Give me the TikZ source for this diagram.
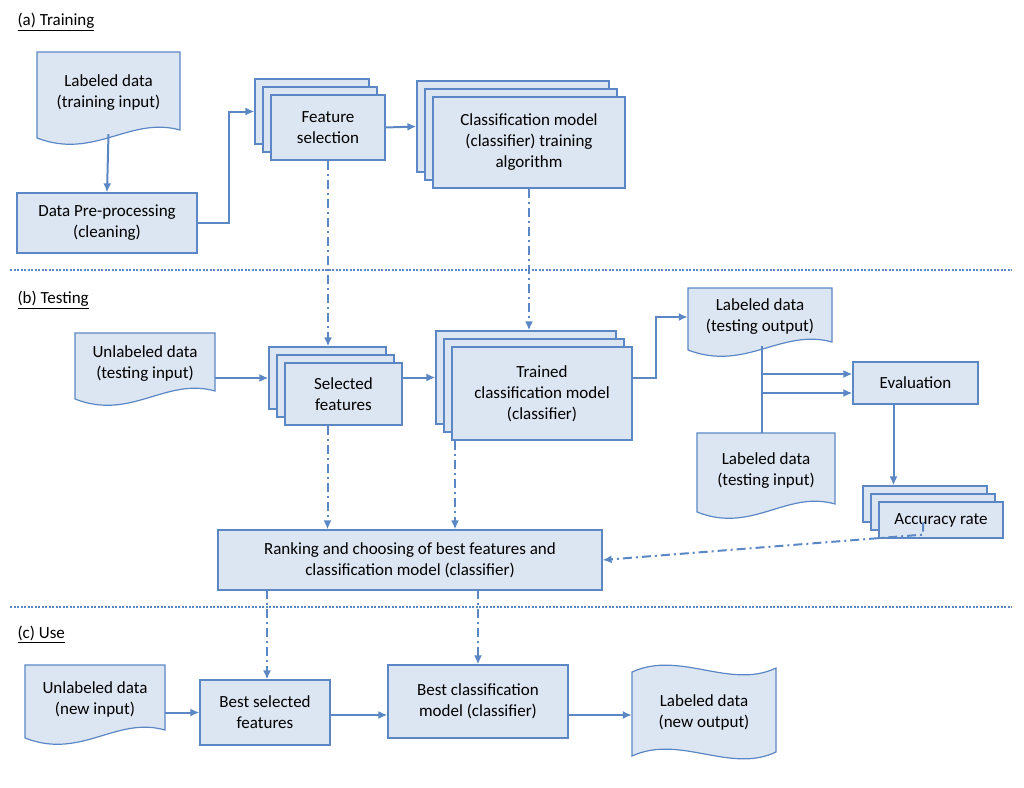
\documentclass[tikz,border=0pt]{standalone}
\usepackage{fontspec}
\setmainfont{Carlito}
\usetikzlibrary{arrows.meta,calc}
\definecolor{bfill}{HTML}{DCE6F2}
\definecolor{bline}{HTML}{5B87C5}
\tikzset{
 box/.style={draw=bline,fill=bfill,line width=1.2pt,align=center,inner sep=2pt,font=\fontsize{17}{21}\selectfont},
 lab/.style={align=center,inner sep=0pt,font=\fontsize{17}{21}\selectfont},
 con/.style={draw=bline,line width=2pt,-{Latex[length=9pt,width=8pt]}},
 dd/.style={con,dash pattern=on 9pt off 4pt on 2pt off 4pt},
 sep/.style={draw=bline,line width=2pt,dash pattern=on 2pt off 1.5pt},
 sec/.style={anchor=west,font=\fontsize{17}{21}\selectfont},
}
\newcommand\boxnode[6]{%
 \pgfmathsetmacro\dw{#4-#2}\pgfmathsetmacro\dh{#5-#3}%
 \node[box,minimum width=\dw pt,minimum height=\dh pt] (#1) at ({(#2+#4)/2},{(#3+#5)/2}) {#6};}
\newcommand\stacknode[6]{%
 \pgfmathsetmacro\dw{#4-#2}\pgfmathsetmacro\dh{#5-#3}%
 \node[box,minimum width=\dw pt,minimum height=\dh pt] (#1b) at ({(#2+#4)/2-16},{(#3+#5)/2-16}) {};
 \node[box,minimum width=\dw pt,minimum height=\dh pt] (#1m) at ({(#2+#4)/2-8},{(#3+#5)/2-8}) {};
 \node[box,minimum width=\dw pt,minimum height=\dh pt] (#1) at ({(#2+#4)/2},{(#3+#5)/2}) {#6};}
% name x1 y1 x2 ybase text
\newcommand\docnode[6]{%
 \pgfmathsetmacro\dw{#4-#2}\pgfmathsetmacro\dh{#5-#3}%
 \draw[draw=bline,fill=bfill,line width=1.2pt] (#2,#3) -- (#4,#3) -- (#4,{#5-4})
   .. controls ({#4-0.35*\dw},{#5-18}) and ({#2+0.4*\dw},{#5+26}) .. (#2,{#5+4}) -- cycle;
 \node[lab,minimum width=\dw pt,minimum height=\dh pt] (#1) at ({(#2+#4)/2},{(#3+#5)/2}) {#6};}
\begin{document}
\begin{tikzpicture}[x=1pt,y=-1pt]
\useasboundingbox (0,0) rectangle (1024,787);
% sections
\node[sec] (ta) at (14,22) {\underline{(a) Training}};
\node[sec] (tb) at (14,300) {\underline{(b) Testing}};
\node[sec] (tc) at (14,634) {\underline{(c) Use}};
\coordinate (s1a) at (10,270); \coordinate (s1b) at (1012,270);
\coordinate (s2a) at (10,607); \coordinate (s2b) at (1012,607);
\draw[sep] (s1a) -- (s1b);
\draw[sep] (s2a) -- (s2b);
% (a)
\docnode{ld}{37}{52}{180}{134}{Labeled data\\(training input)}
\boxnode{pp}{17}{193}{197}{253}{Data Pre-processing\\(cleaning)}
\stacknode{fs}{271}{95}{385}{160}{Feature\\selection}
\stacknode{cm}{433}{97}{625}{188}{Classification model\\(classifier) training\\algorithm}
% (b)
\docnode{ud}{75}{333}{215}{395}{Unlabeled data\\(testing input)}
\stacknode{sf}{285}{363}{402}{425}{Selected\\features}
\stacknode{tm}{452}{347}{632}{440}{Trained\\classification model\\(classifier)}
\docnode{lo}{688}{288}{832}{346}{Labeled data\\(testing output)}
\boxnode{ev}{853}{362}{978}{404}{Evaluation}
\docnode{li}{697}{433}{835}{508}{Labeled data\\(testing input)}
\stacknode{ar}{879}{502}{1003}{538}{Accuracy rate}
\boxnode{rk}{218}{530}{602}{590}{Ranking and choosing of best features and\\classification model (classifier)}
% (c)
\docnode{un}{25}{665}{165}{734}{Unlabeled data\\(new input)}
\boxnode{bs}{200}{680}{330}{745}{Best selected\\features}
\boxnode{bc}{388}{665}{568}{738}{Best classification\\model (classifier)}
\draw[draw=bline,fill=bfill,line width=1.2pt] (632,672) .. controls (680,650) and (730,690) .. (776,668) -- (776,752)
  .. controls (730,774) and (680,734) .. (632,756) -- cycle;
\node[lab,minimum width=144pt,minimum height=84pt] (lno) at (704,712) {Labeled data\\(new output)};
% connectors
\draw[con] (ld.south) -- (pp.north);
\draw[con] (pp.east) -- ++(31,0) |- (fsb.west);
\draw[con] (fs.east) -- (cmb.west);
\draw[dd] (fs.south) -- (sfb.north -| fs.south);
\draw[dd] (cm.south) -- (tmb.north -| cm.south);
\draw[con] (ud.east |- sfb.west) -- (sfb.west);
\draw[con] (sf.east |- tmb.west) -- (tmb.west);
\draw[con] (tm.east |- sfb.west) -- ++(23,0) |- (lo.west);
\draw[con] ([xshift=2pt]lo.south) |- ([yshift=-10pt]ev.west);
\draw[con] ([xshift=-4pt]li.north) |- ([yshift=9pt]ev.west);
\draw[con] ([xshift=-22pt]ev.south) -- ([xshift=-22pt]ev.south |- arb.north);
\draw[dd] ([xshift=-2pt]arb.south) -- ++(0,6) -| ++(0,6) -- (rk.east |- 0,560);
\draw[dd] ([xshift=-16pt]sf.south) -- ([xshift=-16pt]sf.south |- rk.north);
\draw[dd] ([xshift=-87pt]tm.south) -- ([xshift=-87pt]tm.south |- rk.north);
\draw[dd] (267,590) -- (bs.north -| 267,0);
\draw[dd] (478,590) -- (bc.north -| 478,0);
\draw[con] (un.east |- bs.west) -- (bs.west);
\draw[con] (bs.east |- 0,715) -- (bc.west |- 0,715);
\draw[con] (bc.east |- 0,715) -- (lno.west |- 0,715);
\end{tikzpicture}
\end{document}
